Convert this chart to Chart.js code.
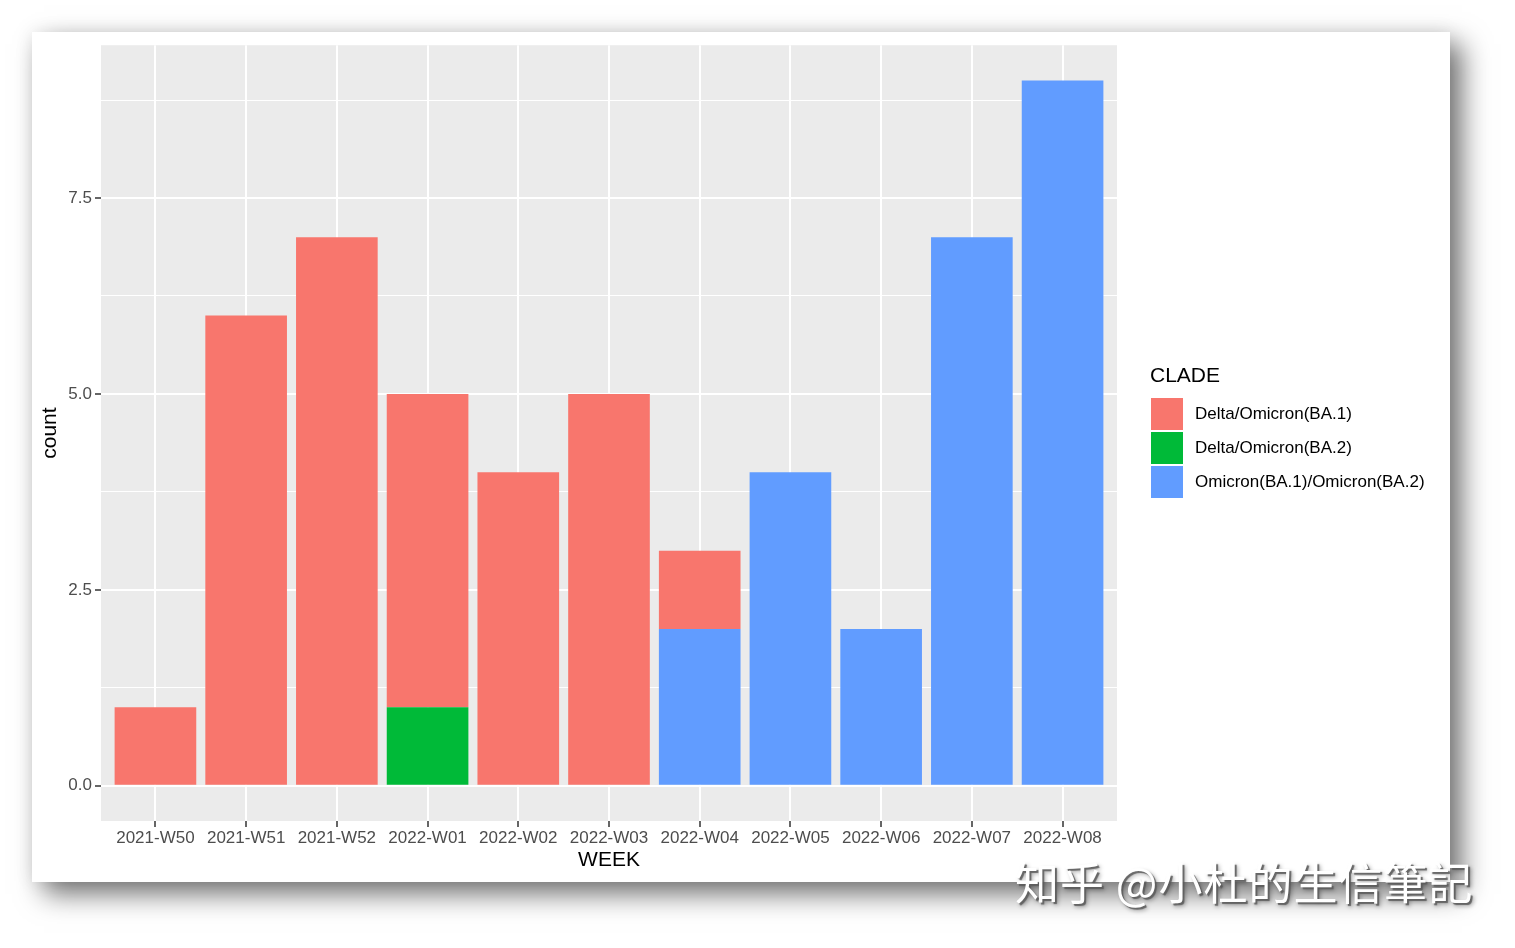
<!DOCTYPE html>
<html>
<head>
<meta charset="utf-8">
<script src="https://cdn.jsdelivr.net/npm/chart.js@4/dist/chart.umd.min.js"></script>
<style>
  body { margin: 0; background: #fff; width: 1515px; height: 948px; overflow: hidden; position: relative; }
  #card {
    position: absolute; left: 32px; top: 32px; width: 1418px; height: 850px; background: #fff;
    box-shadow: 12px 12px 26px rgba(0,0,0,0.55), 0 0 18px rgba(0,0,0,0.08);
  }
  #card canvas { display: block; }
  #mark {
    position: absolute; left: 1015px; top: 859px; font-family: "Noto Sans CJK SC", sans-serif;
    font-size: 44px; line-height: 44px; color: #fff; letter-spacing: 1px; white-space: nowrap;
    text-shadow: 2px 2px 1px rgba(90,90,90,0.9), 3px 3px 4px rgba(0,0,0,0.35);
  }
</style>
</head>
<body>
<div id="card"><canvas id="chart" width="1418" height="850"></canvas></div>
<div id="mark">知乎 @小杜的生信筆記</div>
<script>
const weeks = ["2021-W50", "2021-W51", "2021-W52", "2022-W01", "2022-W02", "2022-W03",
               "2022-W04", "2022-W05", "2022-W06", "2022-W07", "2022-W08"];
const clades = ["Delta/Omicron(BA.1)", "Delta/Omicron(BA.2)", "Omicron(BA.1)/Omicron(BA.2)"];
const cladeColors = ["#F8766D", "#00BA38", "#619CFF"];
const deltaBA1 = [1, 6, 7, 4, 4, 5, 1, 0, 0, 0, 0];
const deltaBA2 = [0, 0, 0, 1, 0, 0, 0, 0, 0, 0, 0];
const omicronBA = [0, 0, 0, 0, 0, 0, 2, 4, 2, 7, 9];
const yTicks = [0, 1.25, 2.5, 3.75, 5, 6.25, 7.5, 8.75];

const font = "'Liberation Sans', Arial, sans-serif";
const isMajor = v => Math.abs(v / 2.5 - Math.round(v / 2.5)) < 1e-9;

function toPoints(values) {
    return values.map((v, i) => ({ x: i + 1, y: v }));
}

// ggplot stacks the first level on top, so the order is reversed here
const seriesValues = [deltaBA1, deltaBA2, omicronBA];
const datasets = [2, 1, 0].map(k => ({
    label: clades[k],
    data: toPoints(seriesValues[k]),
    backgroundColor: cladeColors[k],
    borderWidth: 0,
    categoryPercentage: 0.9,
    barPercentage: 1
}));

const panelBg = {
    id: "panelBg",
    beforeDraw(chart) {
        const { ctx, chartArea: a } = chart;
        ctx.save();
        ctx.fillStyle = "#EBEBEB";
        ctx.fillRect(a.left, a.top, a.right - a.left, a.bottom - a.top);
        ctx.restore();
    }
};

const ggLegend = {
    id: "ggLegend",
    afterDraw(chart) {
        const ctx = chart.ctx;
        ctx.save();
        ctx.textBaseline = "middle";
        ctx.textAlign = "left";
        ctx.fillStyle = "#000";
        ctx.font = "21px " + font;
        ctx.fillText("CLADE", 1118, 344);
        ctx.font = "17px " + font;
        clades.forEach((name, i) => {
            const top = 366 + i * 34;
            ctx.fillStyle = cladeColors[i];
            ctx.fillRect(1119, top, 32, 32);
            ctx.fillStyle = "#000";
            ctx.fillText(name, 1163, top + 16);
        });
        ctx.restore();
    }
};

new Chart(document.getElementById("chart"), {
    type: "bar",
    data: { datasets },
    plugins: [panelBg, ggLegend],
    options: {
        responsive: false,
        animation: false,
        layout: { padding: { left: 0, top: 10, right: 333, bottom: 0 } },
        plugins: { legend: { display: false }, tooltip: { enabled: false } },
        scales: {
            x: {
                type: "linear",
                stacked: true,
                min: 0.4,
                max: 11.6,
                offset: false,
                afterBuildTicks: axis => { axis.ticks = weeks.map((w, i) => ({ value: i + 1 })); },
                afterFit: axis => { axis.height = 61; },
                ticks: {
                    autoSkip: false,
                    maxRotation: 0,
                    padding: 1,
                    color: "#4D4D4D",
                    font: { family: font, size: 17 },
                    callback: v => weeks[Math.round(v) - 1]
                },
                grid: { offset: false, color: "#FFFFFF", lineWidth: 2, tickLength: 6, tickColor: "#333333", tickWidth: 1.5 },
                border: { display: false },
                title: {
                    display: true, text: "WEEK", color: "#000",
                    font: { family: font, size: 21 }, padding: { top: 0, bottom: 9 }
                }
            },
            y: {
                stacked: true,
                min: -0.45,
                max: 9.45,
                afterBuildTicks: axis => { axis.ticks = yTicks.map(v => ({ value: v })); },
                afterFit: axis => { axis.width = 69; },
                ticks: {
                    autoSkip: false,
                    padding: 3,
                    color: "#4D4D4D",
                    font: { family: font, size: 17 },
                    callback: v => isMajor(v) ? v.toFixed(1) : ""
                },
                grid: {
                    color: "#FFFFFF",
                    lineWidth: c => isMajor(c.tick.value) ? 2 : 1,
                    tickLength: 6,
                    tickWidth: 1.5,
                    tickColor: c => isMajor(c.tick.value) ? "#333333" : "rgba(0,0,0,0)"
                },
                border: { display: false },
                title: {
                    display: true, text: "count", color: "#000",
                    font: { family: font, size: 21 }, padding: { top: 6, bottom: 0 }
                }
            }
        }
    }
});
</script>
</body>
</html>
